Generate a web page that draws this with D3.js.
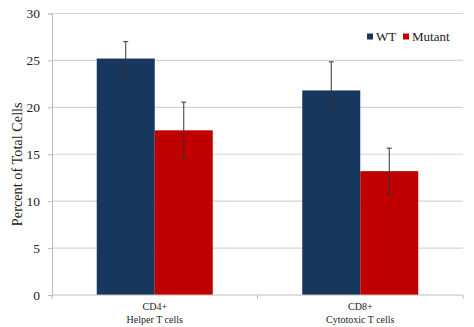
<!DOCTYPE html>
<html><head><meta charset="utf-8">
<script src="https://cdn.jsdelivr.net/npm/d3@7"></script>
<style>body{margin:0;background:#fff;}svg{display:block;}</style>
</head><body>
<script>
const categories = [["CD4+","Helper T cells"],["CD8+","Cytotoxic T cells"]];
const seriesNames = ["WT","Mutant"];
const wtValues = [25.2, 21.8];
const mutantValues = [17.55, 13.2];
const wtErrors = [1.8, 3.05];
const mutantErrors = [3.0, 2.45];
const yTicks = [0,5,10,15,20,25,30];
const colors = ["#17375E","#C00000"];

const W = 474, H = 327;
const m = {left:52, right:11, top:13.5, bottom:32};
const FF = '"Liberation Serif","Times New Roman",Times,serif';
const svg = d3.select("body").append("svg").attr("width",W).attr("height",H);

const x0 = d3.scaleBand().domain(d3.range(categories.length)).range([m.left, W-m.right]).paddingInner(0.4355).paddingOuter(0.4355/2);
const x1 = d3.scaleBand().domain(seriesNames).range([0, x0.bandwidth()]);
const y = d3.scaleLinear().domain([0,30]).range([H-m.bottom, m.top]);

svg.append("g").selectAll("line").data(yTicks.filter(t=>t>0)).join("line")
  .attr("x1", m.left).attr("x2", W-m.right)
  .attr("y1", d=>y(d)).attr("y2", d=>y(d))
  .attr("stroke","#d4d4d4").attr("stroke-width",1.2);

const yAxis = svg.append("g").attr("transform",`translate(${m.left},0)`)
  .call(d3.axisLeft(y).tickValues(yTicks).tickSize(4).tickPadding(8));
yAxis.select(".domain").attr("stroke","#bdbdbd");
yAxis.selectAll(".tick line").attr("stroke","#bdbdbd");
yAxis.selectAll("text").style("font-family",FF).style("font-size","13.5px").attr("fill","#222");

const data = categories.map((c,i)=>({i, vals:[
  {s:"WT", v:wtValues[i], e:wtErrors[i], c:colors[0]},
  {s:"Mutant", v:mutantValues[i], e:mutantErrors[i], c:colors[1]}]}));
const g = svg.append("g").selectAll("g").data(data).join("g")
  .attr("transform", d=>`translate(${x0(d.i)},0)`);
g.selectAll("rect").data(d=>d.vals).join("rect")
  .attr("x", d=>x1(d.s)).attr("width", x1.bandwidth())
  .attr("y", d=>y(d.v)).attr("height", d=>y(0)-y(d.v)).attr("fill", d=>d.c);

const xa = svg.append("g").attr("transform",`translate(0,${y(0)})`);
xa.append("line").attr("x1",m.left).attr("x2",W-m.right).attr("stroke","#bdbdbd");
const bnd = [m.left, (x0(0)+x0.bandwidth()+x0(1))/2, W-m.right];
xa.selectAll("line.t").data(bnd).join("line").attr("class","t")
  .attr("x1",d=>d).attr("x2",d=>d).attr("y1",0).attr("y2",4).attr("stroke","#bdbdbd");
const lab = xa.selectAll("text").data(categories).join("text")
  .style("font-family",FF).style("font-size","10px").attr("fill","#222")
  .attr("text-anchor","middle");
lab.append("tspan").attr("x",(d,i)=>x0(i)+x0.bandwidth()/2).attr("y",15).text(d=>d[0]);
lab.append("tspan").attr("x",(d,i)=>x0(i)+x0.bandwidth()/2).attr("y",27.5).text(d=>d[1]);

const eb = g.selectAll("g.err").data(d=>d.vals).join("g").attr("class","err")
  .attr("transform", d=>`translate(${x1(d.s)+x1.bandwidth()/2},0)`);
eb.append("line").attr("y1",d=>y(d.v+d.e)).attr("y2",d=>y(d.v-d.e)).attr("stroke","#333").attr("stroke-width",1);
eb.append("line").attr("x1",-2.5).attr("x2",2.5).attr("y1",d=>y(d.v+d.e)).attr("y2",d=>y(d.v+d.e)).attr("stroke","#333");
eb.append("line").attr("x1",-2.5).attr("x2",2.5).attr("y1",d=>y(d.v-d.e)).attr("y2",d=>y(d.v-d.e)).attr("stroke","#333");

svg.append("text").attr("transform",`translate(22,${(y(0)+y(30))/2+10}) rotate(-90)`)
  .attr("text-anchor","middle").style("font-family",FF).style("font-size","14.3px").attr("fill","#222")
  .text("Percent of Total Cells");

const leg = svg.append("g");
const legX = [367, 403];
seriesNames.forEach((s,i)=>{
  leg.append("rect").attr("x",legX[i]).attr("y",33.5).attr("width",6).attr("height",6).attr("fill",colors[i]);
  leg.append("text").attr("x",legX[i]+9).attr("y",41).style("font-family",FF).style("font-size","13px").attr("fill","#222").text(s);
});
</script>
</body></html>
